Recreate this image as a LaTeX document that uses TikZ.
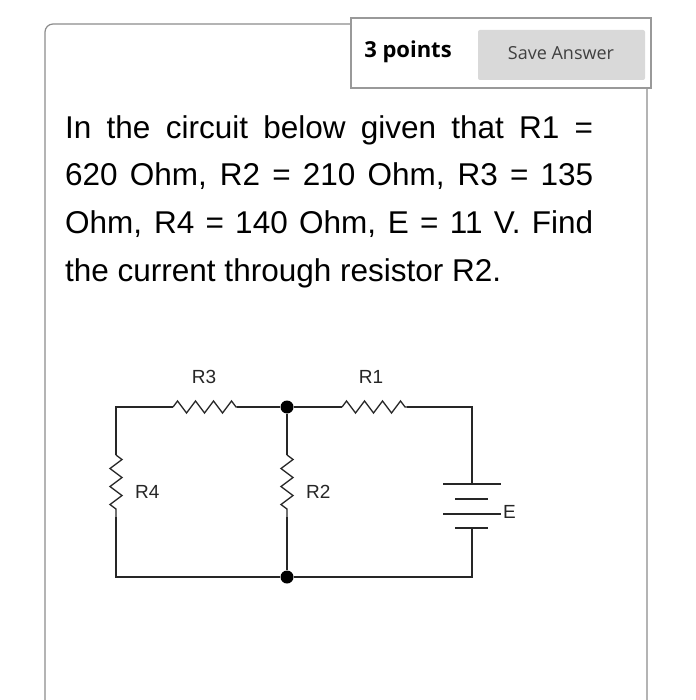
\documentclass[tikz,border=0pt]{standalone}
\usepackage{fontspec}
\setmainfont{Liberation Sans}
\newfontfamily\osans{Open Sans}
\usetikzlibrary{decorations.pathmorphing}
\begin{document}
\begin{tikzpicture}[x=1pt,y=-1pt,
  wire/.style={line width=1.3pt,black!85},
  res/.style={wire,decorate,decoration={zigzag,amplitude=6pt,segment length=18pt}},
  dot/.style={circle,fill=black,inner sep=0pt,minimum size=13pt},
  lab/.style={font=\fontsize{19}{19}\selectfont,text=black!85,inner sep=0pt},
  qtext/.style={font=\fontsize{31.5}{31.5}\selectfont,anchor=base west,inner sep=0pt}]
\useasboundingbox (0,0) rectangle (695,700);
\fill[white] (0,0) rectangle (695,700);
% card
\draw[black!45,line width=1.2pt,rounded corners=8pt] (45,720) -- (45,24) -- (647,24) -- (647,720);
\draw[black!40,fill=white,line width=1.2pt] (351,18) rectangle (651,88);
\fill[black!15,rounded corners=2pt] (478,30) rectangle (645,80);
\node[font=\osans\bfseries\fontsize{22}{22}\selectfont,inner sep=0pt] (pts) at (408,52) {3 points};
\node[font=\osans\fontsize{18}{18}\selectfont,text=black!75,inner sep=0pt] (save) at (561,53) {Save Answer};
% question
\node[qtext] (l1) at (65,139) {\makebox[528pt][s]{In the circuit below given that R1 =}};
\node[qtext] (l2) at (65,186) {\makebox[528pt][s]{620 Ohm, R2 = 210 Ohm, R3 = 135}};
\node[qtext] (l3) at (65,234) {\makebox[528pt][s]{Ohm, R4 = 140 Ohm, E = 11 V. Find}};
\node[qtext] (l4) at (65,281) {the current through resistor R2.};
% circuit coordinates
\coordinate (tl) at (116,407);
\coordinate (bl) at (116,577);
\coordinate (tr) at (472,407);
\coordinate (br) at (472,577);
\node[dot] (nt) at (287,407) {};
\node[dot] (nb) at (287,577) {};
\coordinate (r3a) at (173,407); \coordinate (r3b) at (237,407);
\coordinate (r1a) at (342,407); \coordinate (r1b) at (407,407);
\coordinate (r4a) at (116,455); \coordinate (r4b) at (116,517);
\coordinate (r2a) at (287,455); \coordinate (r2b) at (287,517);
\coordinate (bt) at (472,484); \coordinate (bb) at (472,528);
\draw[wire] (r4a) -- (tl) -- (r3a);
\draw[res] (r3a) -- (r3b);
\draw[wire] (r3b) -- (nt) -- (r1a);
\draw[res] (r1a) -- (r1b);
\draw[wire] (r1b) -- (tr) -- (bt);
\draw[res] (r4a) -- (r4b);
\draw[wire] (r4b) -- (bl) -- (nb) -- (br) -- (bb);
\draw[wire] (nt) -- (r2a);
\draw[res] (r2a) -- (r2b);
\draw[wire] (r2b) -- (nb);
% battery
\draw[wire] (443,484) -- (501,484);
\draw[wire] (455,499) -- (488,499);
\draw[wire] (443,514) -- (501,514);
\draw[wire] (455,528) -- (488,528);
\node[lab,anchor=west] (E) at (503,512) {E};
\node[lab] (R3) at (204,377) {R3};
\node[lab] (R1) at (371,377) {R1};
\node[lab,anchor=west] (R4) at (135,492) {R4};
\node[lab,anchor=west] (R2) at (306,492) {R2};
\end{tikzpicture}
\end{document}
